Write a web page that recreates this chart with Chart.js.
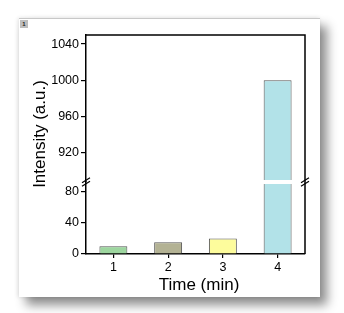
<!DOCTYPE html>
<html><head><meta charset="utf-8">
<script src="https://cdn.jsdelivr.net/npm/chart.js@4"></script>
<style>
html,body{margin:0;padding:0;background:#fff;width:344px;height:313px;overflow:hidden;}
#card{position:absolute;left:19px;top:18px;width:301px;height:278px;background:#fff;border-top:1px solid #c8c8c8;box-shadow:7px 8px 10px rgba(0,0,0,0.45), -1px 0 4px rgba(0,0,0,0.12);}
#badge{position:absolute;left:20px;top:20px;width:8px;height:8px;background:#bdbdbd;color:#222;font:bold 6px "Liberation Sans",Arial,sans-serif;line-height:8px;text-align:center;}
canvas{position:absolute;left:0;top:0;}
</style></head><body>
<div id="card"></div><div id="badge">1</div>
<canvas id="c" width="344" height="313"></canvas>
<script>
const categories = ['1', '2', '3', '4'];
const intensity = [10, 15, 20, 1000];
const barColors = ['#9dd69f', '#b3b294', '#fdfc9c', '#b2e2e8'];
const lowTicks = [0, 40, 80];
const highTicks = [920, 960, 1000, 1040];
const lowRange = [0, 92.5];
const highRange = [888, 1050];
const xTitle = 'Time (min)';
const yTitle = 'Intensity (a.u.)';

const FAMILY = '"Liberation Sans", Arial, sans-serif';
const tickFont = {family: FAMILY, size: 12.5};

function yAxis(range, ticks, weight) {
  return {
    type: 'linear', position: 'left', stack: 'ybreak', stackWeight: weight,
    min: range[0], max: range[1], beginAtZero: false,
    afterBuildTicks: s => { s.ticks = ticks.map(v => ({value: v})); },
    afterFit: s => { s.width = 86; },
    grid: {drawOnChartArea: false, drawTicks: true, tickLength: 5, color: '#000', lineWidth: 1.2},
    border: {display: true, color: '#000', width: 1.5},
    ticks: {color: '#000', font: tickFont, padding: 2, includeBounds: false, callback: v => String(v)}
  };
}

const decor = {
  id: 'decor',
  beforeDatasetDraw(chart, args) {
    const ys = chart.scales[args.meta.yAxisID];
    const a = chart.chartArea, ctx = chart.ctx;
    ctx.save();
    ctx.beginPath();
    ctx.rect(a.left, ys.top, a.right - a.left, ys.bottom - ys.top);
    ctx.clip();
  },
  afterDatasetDraw(chart) { chart.ctx.restore(); },
  afterDraw(chart) {
    const ctx = chart.ctx, a = chart.chartArea, yb = chart.scales.yLow.top;
    const meta = chart.getDatasetMeta(0);
    ctx.save();
    meta.data.forEach((bar, i) => {
      if (intensity[i] > lowRange[1]) {
        const w = bar.width;
        ctx.fillStyle = '#fff';
        ctx.fillRect(bar.x - w / 2 - 1, yb - 2, w + 2, 4);
      }
    });
    ctx.strokeStyle = '#000';
    ctx.lineWidth = 1.5;
    ctx.beginPath();
    ctx.moveTo(a.left, a.top); ctx.lineTo(a.right, a.top); ctx.lineTo(a.right, a.bottom);
    ctx.stroke();
    ctx.lineWidth = 1.2;
    [a.left, a.right].forEach(x => {
      [-1.8, 1.8].forEach(d => {
        ctx.beginPath();
        ctx.moveTo(x - 4, yb + d + 2.5);
        ctx.lineTo(x + 4, yb + d - 2.5);
        ctx.stroke();
      });
    });
    ctx.fillStyle = '#000';
    ctx.font = '17px ' + FAMILY;
    ctx.textAlign = 'center';
    ctx.textBaseline = 'middle';
    ctx.fillText(xTitle, 199, 285);
    ctx.translate(40, 134);
    ctx.rotate(-Math.PI / 2);
    ctx.fillText(yTitle, 0, 0);
    ctx.restore();
  }
};

const dsCommon = {
  data: intensity,
  backgroundColor: barColors,
  borderColor: '#555',
  borderWidth: 1,
  barPercentage: 0.51,
  categoryPercentage: 1
};

new Chart(document.getElementById('c'), {
  type: 'bar',
  data: {
    labels: categories,
    datasets: [
      Object.assign({label: 'low', yAxisID: 'yLow'}, dsCommon),
      Object.assign({label: 'high', yAxisID: 'yHigh'}, dsCommon)
    ]
  },
  options: {
    responsive: false,
    animation: false,
    grouped: false,
    layout: {padding: {left: 0, top: 35, right: 39, bottom: 20}},
    plugins: {legend: {display: false}, tooltip: {enabled: false}},
    scales: {
      x: {
        offset: true,
        afterFit: s => { s.height = 39; },
        grid: {drawOnChartArea: false, drawTicks: true, tickLength: 4, offset: false, color: '#000', lineWidth: 1.2},
        border: {display: true, color: '#000', width: 1.5},
        ticks: {color: '#000', font: tickFont, padding: 2}
      },
      yLow: yAxis(lowRange, lowTicks, 72),
      yHigh: yAxis(highRange, highTicks, 147)
    }
  },
  plugins: [decor]
});
</script>
</body></html>
